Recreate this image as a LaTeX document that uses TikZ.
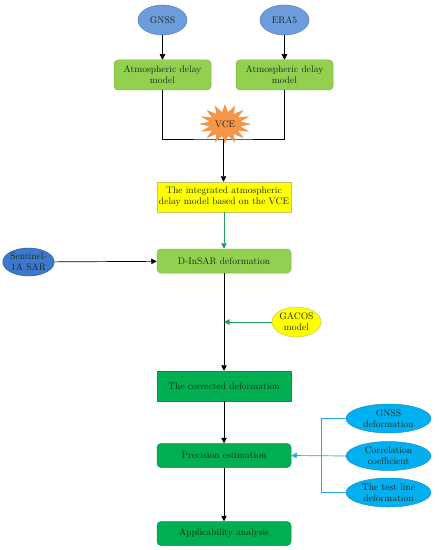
\documentclass[tikz,border=0pt]{standalone}
\usetikzlibrary{arrows.meta,shapes.geometric}
\definecolor{ellblue}{HTML}{6C9CDB}
\definecolor{ellblueB}{HTML}{5580BC}
\definecolor{senblue}{HTML}{3C78CC}
\definecolor{senblueB}{HTML}{2E5E9E}
\definecolor{lgreen}{HTML}{92D050}
\definecolor{lgreenB}{HTML}{7DB545}
\definecolor{dgreen}{HTML}{00B050}
\definecolor{dgreenB}{HTML}{00994A}
\definecolor{yel}{HTML}{FFFF00}
\definecolor{yelB}{HTML}{C4C46A}
\definecolor{cyanE}{HTML}{00B0F0}
\definecolor{cyanB}{HTML}{2090C8}
\definecolor{cyanL}{HTML}{2AA8E0}
\definecolor{garrow}{HTML}{1FA060}
\definecolor{orng}{HTML}{F79646}
\definecolor{orngB}{HTML}{F08A3C}
\definecolor{txt}{HTML}{1A2A1A}
\tikzset{
  lbl/.style={font=\fontsize{9.6}{11}\selectfont, text=txt, align=center, inner sep=0pt},
  ell/.style={lbl, ellipse, minimum width=49bp, minimum height=30bp, line width=0.5pt},
  srcell/.style={ell, fill=ellblue, draw=ellblueB},
  senell/.style={ell, fill=senblue, draw=senblueB, minimum height=28bp},
  gacell/.style={ell, fill=yel, draw=yelB},
  bluell/.style={ell, fill=cyanE, draw=cyanB, minimum width=85bp, minimum height=29bp},
  lgbox/.style={lbl, rectangle, rounded corners=4bp, fill=lgreen, draw=lgreenB, line width=0.5pt},
  dgbox/.style={lbl, rectangle, fill=dgreen, draw=dgreenB, line width=0.5pt, minimum width=134bp},
  yelbox/.style={lbl, rectangle, fill=yel, draw=yelB, line width=0.5pt, minimum width=134bp, minimum height=30bp},
  arr/.style={-{Triangle[length=5.5bp,width=5.5bp]}, line width=0.7pt},
  ln/.style={line width=0.7pt},
}
\begin{document}
\begin{tikzpicture}[x=1bp,y=-1bp]
\useasboundingbox (0,0) rectangle (439,550);
% sources
\node[srcell] (gnss) at (162.5,20) {GNSS};
\node[srcell] (era) at (284.5,20) {ERA5};
\node[lgbox, minimum width=97bp, minimum height=30bp] (atm1) at (162.5,75) {Atmospheric delay\\model};
\node[lgbox, minimum width=97bp, minimum height=30bp] (atm2) at (284.5,75) {Atmospheric delay\\model};
\draw[arr] (gnss) -- (atm1);
\draw[arr] (era) -- (atm2);
% join
\coordinate (join) at (223.5,139);
\draw[ln] (atm1.south) |- (join) -| (atm2.south);
% star
\filldraw[fill=orng, draw=orngB, line width=0.4pt]
  (225,143) \foreach \i [evaluate=\i as \a using {90+\i*11.25},
                        evaluate=\i as \rx using {mod(\i,2)==0?25:15},
                        evaluate=\i as \ry using {mod(\i,2)==0?19:11.5}] in {1,...,31}
  { -- ({225+\rx*cos(\a)},{124+\ry*sin(\a)}) } -- cycle;
\node[lbl] (vce) at (225,124) {VCE};
% integrated
\node[yelbox] (integ) at (224,197) {The integrated atmospheric\\delay model based on the VCE};
\draw[arr] (join) -- (integ.north -| join);
\node[lgbox, minimum width=134bp, minimum height=24bp] (dinsar) at (224,261) {D-InSAR deformation};
\draw[arr, draw=garrow, fill=garrow] (integ) -- (dinsar);
\node[senell] (sen) at (28.5,262) {Sentinel-\\1A SAR};
\draw[arr] (sen) -- (dinsar);
% corrected
\node[dgbox, minimum height=30bp] (corr) at (224,386) {The corrected deformation};
\draw[arr] (dinsar) -- (corr);
\node[gacell] (gacos) at (296.5,322) {GACOS\\model};
\draw[arr, draw=garrow, fill=garrow] (gacos.west) -- (gacos.west -| dinsar.south);
% precision
\node[dgbox, rounded corners=4bp, minimum height=24bp] (prec) at (224,455.5) {Precision estimation};
\draw[arr] (corr) -- (prec);
\node[dgbox, rounded corners=4bp, minimum height=24bp] (appl) at (224,533.5) {Applicability analysis};
\draw[arr] (prec) -- (appl);
% blue ellipses
\node[bluell] (gdef) at (388.5,418.5) {GNSS\\deformation};
\node[bluell] (ccoef) at (388.5,456) {Correlation\\coefficient};
\node[bluell] (tdef) at (388.5,492.5) {The test line\\deformation};
\coordinate (brx) at (321,456);
\draw[ln, draw=cyanL] (gdef.west) -- (gdef.west -| brx) -- (tdef.west -| brx) -- (tdef.west);
\draw[arr, draw=cyanL, fill=cyanL] (ccoef.west) -- (prec.east);
\end{tikzpicture}
\end{document}
